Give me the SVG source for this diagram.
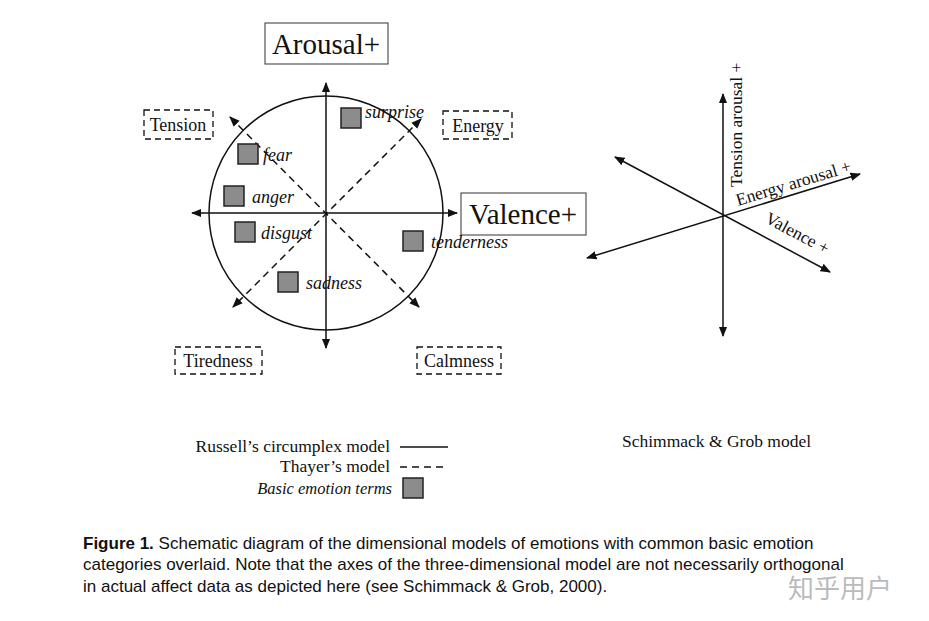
<svg xmlns="http://www.w3.org/2000/svg" width="929" height="621" viewBox="0 0 929 621">
<style>
.s{font-family:"Liberation Serif",serif;fill:#111}
.i{font-style:italic}
.ln{stroke:#111;stroke-width:1.5;fill:none}
.d{stroke:#111;stroke-width:1.5;stroke-dasharray:7,5;fill:none}
.db{stroke:#111;stroke-width:1.3;stroke-dasharray:6,4;fill:#fff}
.sq{fill:#8c8c8c;stroke:#222;stroke-width:1.5}
.c{font-family:"Liberation Sans",sans-serif;font-size:17px;fill:#111}
</style>
<defs>
<marker id="a" viewBox="0 0 10 10" refX="9" refY="5" markerWidth="7" markerHeight="7" orient="auto-start-reverse"><path d="M0,1 L10,5 L0,9 Z" fill="#111"/></marker>
</defs>
<rect width="929" height="621" fill="#fff"/>
<g id="connectors">
<circle cx="326" cy="213" r="117" class="ln"/>
<line x1="326" y1="83" x2="326" y2="348" class="ln" marker-start="url(#a)" marker-end="url(#a)"/>
<line x1="192" y1="213" x2="457" y2="213" class="ln" marker-start="url(#a)" marker-end="url(#a)"/>
<line x1="230" y1="117" x2="419" y2="307" class="d" marker-start="url(#a)" marker-end="url(#a)"/>
<line x1="421" y1="119" x2="233" y2="307" class="d" marker-start="url(#a)" marker-end="url(#a)"/>
<line x1="723" y1="94" x2="723" y2="336" class="ln" marker-start="url(#a)" marker-end="url(#a)"/>
<line x1="615" y1="157" x2="830" y2="272" class="ln" marker-start="url(#a)" marker-end="url(#a)"/>
<line x1="587" y1="258" x2="860" y2="174" class="ln" marker-start="url(#a)" marker-end="url(#a)"/>
</g>
<g id="arousal"><rect x="265" y="23" width="123" height="41" fill="#fff" stroke="#333"/><text x="326" y="54" text-anchor="middle" class="s" font-size="29">Arousal+</text></g>
<g id="valence"><rect x="461" y="193" width="125" height="42" fill="#fff" stroke="#333"/><text x="523" y="224" text-anchor="middle" class="s" font-size="29">Valence+</text></g>
<g id="tension"><rect x="144" y="110" width="69" height="29" class="db"/><text x="178" y="131" text-anchor="middle" class="s" font-size="18">Tension</text></g>
<g id="energy"><rect x="443" y="111" width="69" height="28" class="db"/><text x="478" y="132" text-anchor="middle" class="s" font-size="18">Energy</text></g>
<g id="tiredness"><rect x="175" y="347" width="87" height="27" class="db"/><text x="218" y="367" text-anchor="middle" class="s" font-size="18">Tiredness</text></g>
<g id="calmness"><rect x="417" y="347" width="84" height="27" class="db"/><text x="459" y="367" text-anchor="middle" class="s" font-size="18">Calmness</text></g>
<g id="surprise"><rect x="341" y="108" width="20" height="20" class="sq"/><text x="365" y="118" class="s i" font-size="18">surprise</text></g>
<g id="fear"><rect x="238" y="144" width="20" height="20" class="sq"/><text x="263" y="161" class="s i" font-size="18">fear</text></g>
<g id="anger"><rect x="224" y="186" width="20" height="20" class="sq"/><text x="252" y="203" class="s i" font-size="18">anger</text></g>
<g id="disgust"><rect x="235" y="222" width="20" height="20" class="sq"/><text x="261" y="239" class="s i" font-size="18">disgust</text></g>
<g id="tenderness"><rect x="403" y="231" width="20" height="20" class="sq"/><text x="431" y="248" class="s i" font-size="18">tenderness</text></g>
<g id="sadness"><rect x="278" y="272" width="20" height="20" class="sq"/><text x="306" y="289" class="s i" font-size="18">sadness</text></g>
<g id="sg-labels">
<text transform="translate(742,187) rotate(-90)" class="s" font-size="17.5">Tension arousal +</text>
<text transform="translate(738,206) rotate(-17)" class="s" font-size="17.5">Energy arousal +</text>
<text transform="translate(764,222) rotate(28)" class="s" font-size="17.5">Valence +</text>
</g>
<g id="legend">
<text x="390" y="452" text-anchor="end" class="s" font-size="17.5">Russell’s circumplex model</text>
<line x1="400" y1="447" x2="448" y2="447" class="ln"/>
<text x="390" y="472" text-anchor="end" class="s" font-size="17.5">Thayer’s model</text>
<line x1="400" y1="467" x2="448" y2="467" class="d"/>
<text x="392" y="494" text-anchor="end" class="s i" font-size="16.5">Basic emotion terms</text>
<rect x="403" y="478" width="20" height="20" class="sq"/>
<text x="622" y="447" class="s" font-size="17.5">Schimmack &amp; Grob model</text>
</g>
<g id="caption">
<text x="83" y="549" class="c"><tspan font-weight="bold">Figure 1.</tspan> Schematic diagram of the dimensional models of emotions with common basic emotion</text>
<text x="83" y="570" class="c">categories overlaid. Note that the axes of the three-dimensional model are not necessarily orthogonal</text>
<text x="83" y="592" class="c">in actual affect data as depicted here (see Schimmack &amp; Grob, 2000).</text>
<text x="788" y="598" font-family="'Noto Sans CJK SC',sans-serif" font-size="26" fill="#bbb">知乎用户</text>
</g>
</svg>
